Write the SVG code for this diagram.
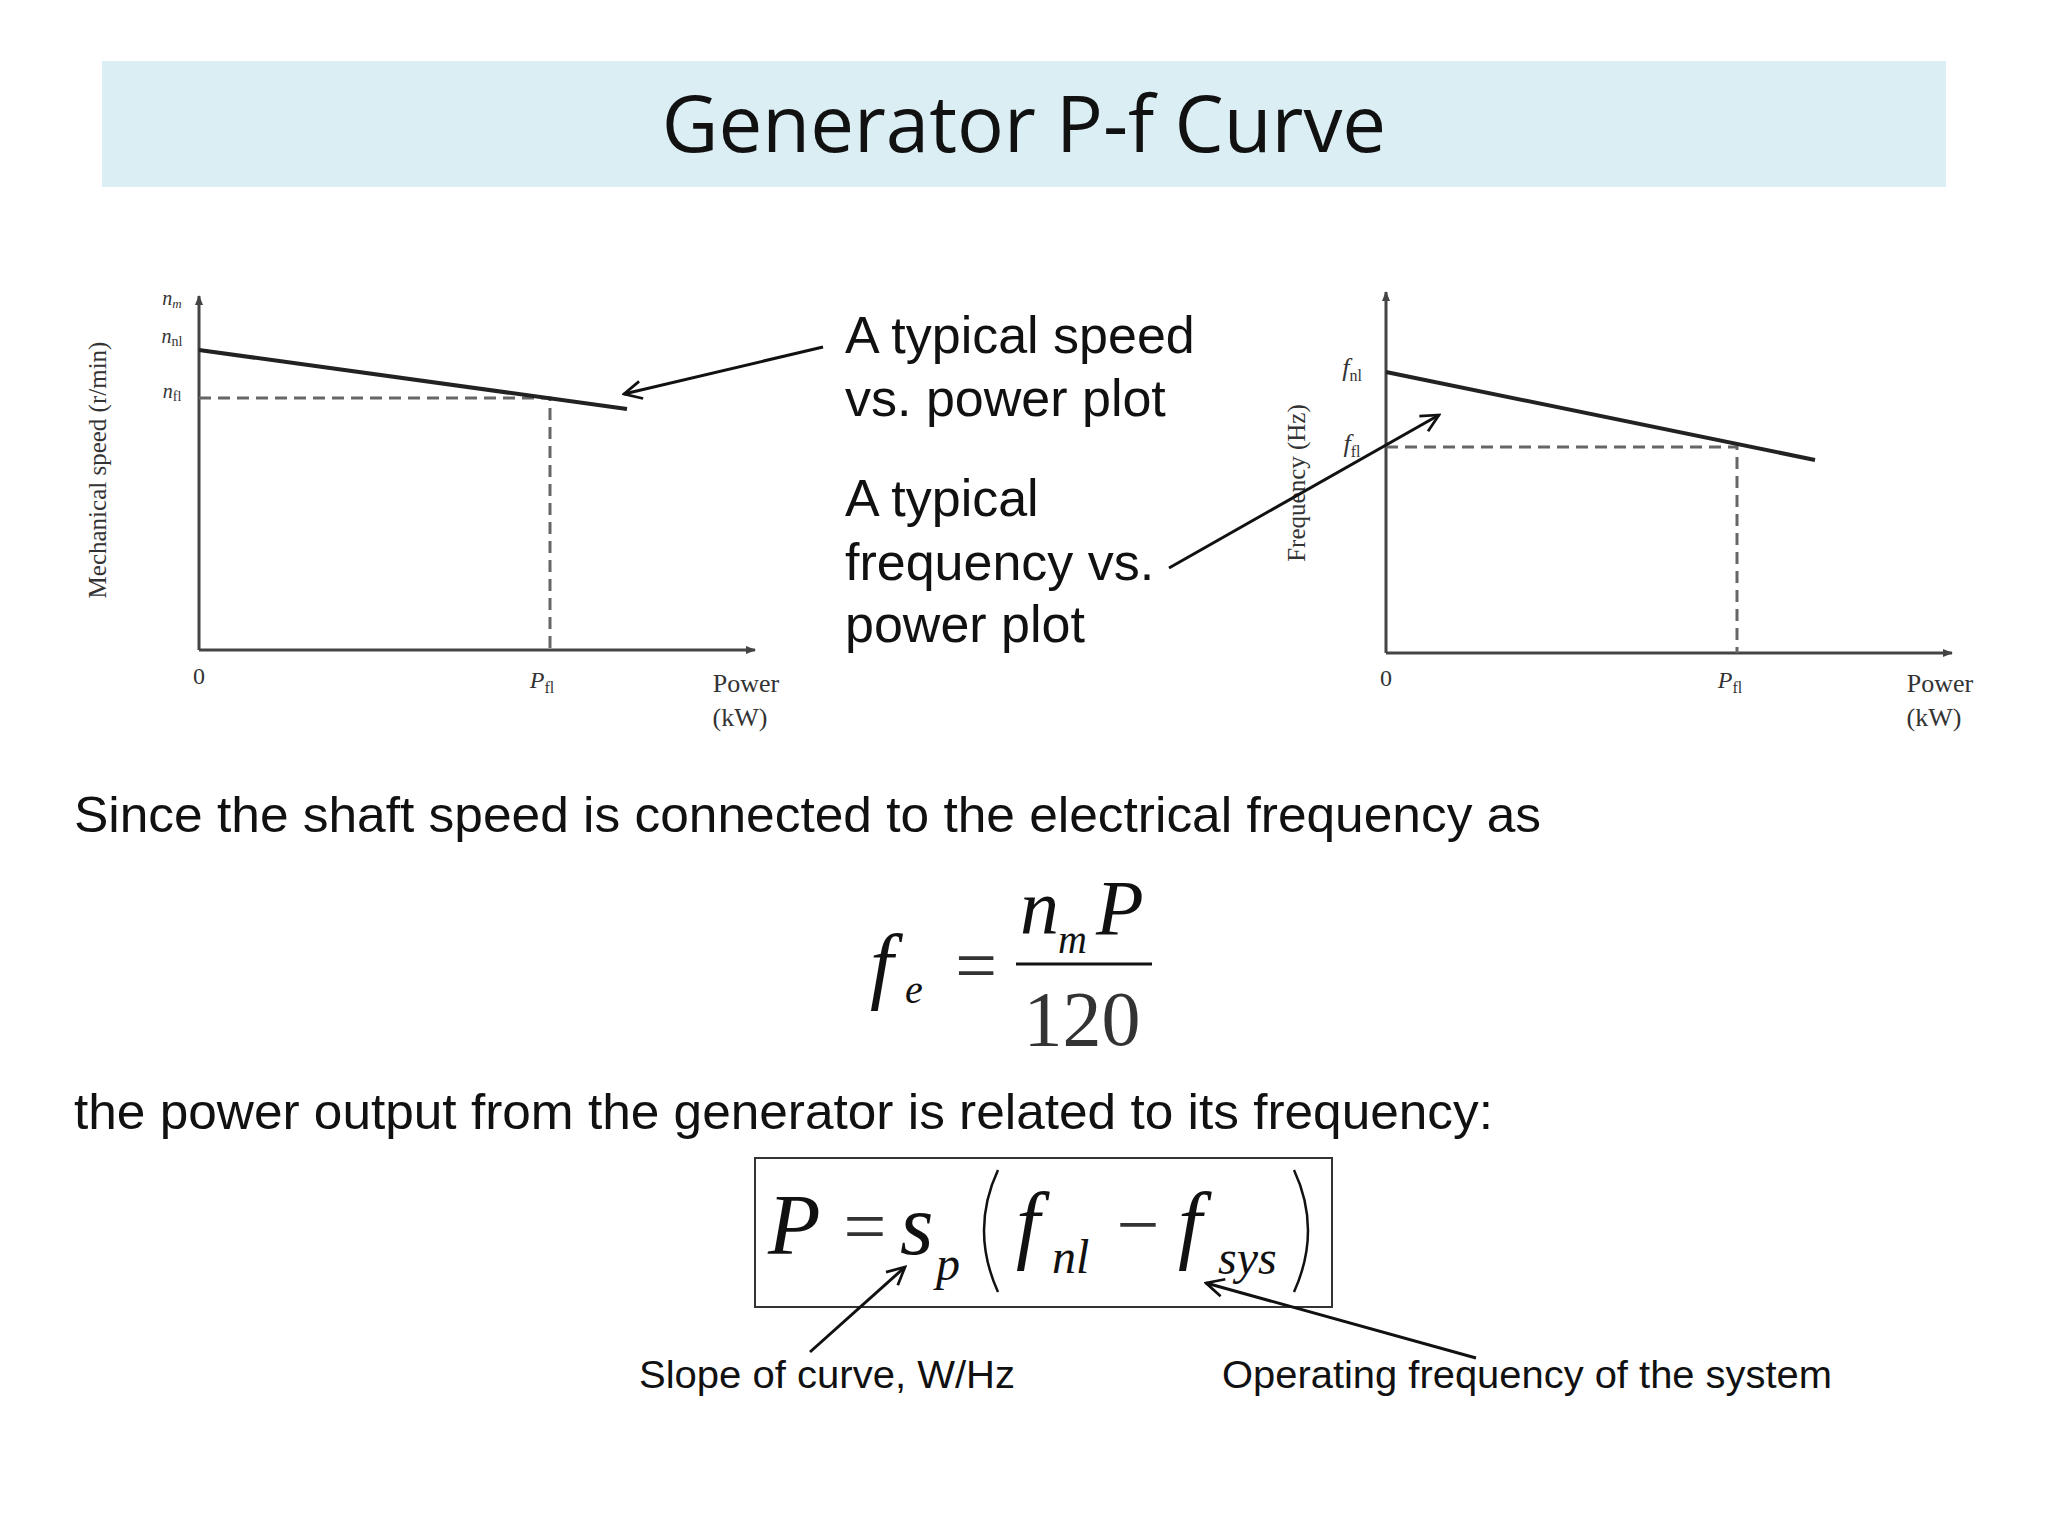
<svg xmlns="http://www.w3.org/2000/svg" width="2048" height="1536" viewBox="0 0 2048 1536">
<defs>
<style>
.ax{stroke:#444;stroke-width:3;fill:none}
.cv{stroke:#222;stroke-width:4;fill:none}
.ds{stroke:#666;stroke-width:3;stroke-dasharray:12 7;fill:none}
.ar{stroke:#111;stroke-width:3;fill:none;marker-end:url(#ah)}
.tm{font-family:'Liberation Serif',serif;fill:#333}
.ti{font-family:'Liberation Serif',serif;font-style:italic;fill:#333}
.sn{font-family:'Liberation Sans',Arial,sans-serif;fill:#111}
.eq{font-family:'Liberation Serif',serif;font-style:italic;fill:#111}
.pr{stroke:#111;stroke-width:2.5;fill:none}
</style>
<marker id="ah" viewBox="0 0 20 20" refX="18" refY="10" markerWidth="22" markerHeight="22" markerUnits="userSpaceOnUse" orient="auto"><path d="M2,2 L18,10 L2,18" fill="none" stroke="#111" stroke-width="2.5"/></marker>
<marker id="ax" viewBox="0 0 10 10" refX="9" refY="5" markerWidth="10" markerHeight="10" markerUnits="userSpaceOnUse" orient="auto"><path d="M0,1 L10,5 L0,9z" fill="#444"/></marker>
</defs>
<rect width="2048" height="1536" fill="#fff"/>
<g id="title"><rect x="102" y="61" width="1844" height="126" fill="#DAEEF3"/>
<text x="1024" y="152" text-anchor="middle" font-family="'Open Sans',sans-serif" font-size="78" fill="#111">Generator P-f Curve</text></g>
<g id="plot-speed">
<path class="ax" d="M199,650 V296" marker-end="url(#ax)"/><path class="ax" d="M199,650 H755" marker-end="url(#ax)"/>
<path class="ds" d="M199,398 H550 V650"/>
<path class="cv" d="M199,350 L627,409"/>
<text class="ti" x="172" y="305" font-size="20" text-anchor="middle">n<tspan font-size="13" dy="3">m</tspan></text>
<text class="ti" x="172" y="343" font-size="20" text-anchor="middle">n<tspan font-style="normal" font-size="14" dy="3">nl</tspan></text>
<text class="ti" x="172" y="398" font-size="20" text-anchor="middle">n<tspan font-style="normal" font-size="14" dy="3">fl</tspan></text>
<text class="tm" x="199" y="684" font-size="24" text-anchor="middle">0</text>
<text class="ti" x="542" y="688" font-size="24" text-anchor="middle">P<tspan font-style="normal" font-size="16" dy="5">fl</tspan></text>
<text class="tm" x="746" y="692" font-size="26" text-anchor="middle">Power</text>
<text class="tm" x="740" y="726" font-size="26" text-anchor="middle">(kW)</text>
<text class="tm" transform="translate(106,470) rotate(-90)" font-size="25" text-anchor="middle">Mechanical speed (r/min)</text>
</g>
<g id="plot-freq">
<path class="ax" d="M1386,653 V292" marker-end="url(#ax)"/><path class="ax" d="M1386,653 H1952" marker-end="url(#ax)"/>
<path class="ds" d="M1386,447 H1737 V653"/>
<path class="cv" d="M1386,372 L1815,460"/>
<text class="ti" x="1352" y="376" font-size="26" text-anchor="middle">f<tspan font-style="normal" font-size="16" dy="5">nl</tspan></text>
<text class="ti" x="1352" y="452" font-size="26" text-anchor="middle">f<tspan font-style="normal" font-size="16" dy="5">fl</tspan></text>
<text class="tm" x="1386" y="686" font-size="24" text-anchor="middle">0</text>
<text class="ti" x="1730" y="688" font-size="24" text-anchor="middle">P<tspan font-style="normal" font-size="16" dy="5">fl</tspan></text>
<text class="tm" x="1940" y="692" font-size="26" text-anchor="middle">Power</text>
<text class="tm" x="1934" y="726" font-size="26" text-anchor="middle">(kW)</text>
<text class="tm" transform="translate(1305,483) rotate(-90)" font-size="25" text-anchor="middle">Frequency (Hz)</text>
</g>
<g id="labels">
<text class="sn" x="845" y="353" font-size="52">A typical speed</text>
<text class="sn" x="845" y="416" font-size="52">vs. power plot</text>
<text class="sn" x="845" y="516" font-size="52">A typical</text>
<text class="sn" x="845" y="580" font-size="52">frequency vs.</text>
<text class="sn" x="845" y="642" font-size="52">power plot</text>
<text class="sn" x="74" y="832" font-size="50" textLength="1467" lengthAdjust="spacingAndGlyphs">Since the shaft speed is connected to the electrical frequency as</text>
<text class="sn" x="74" y="1129" font-size="50" textLength="1419" lengthAdjust="spacingAndGlyphs">the power output from the generator is related to its frequency:</text>
<text class="sn" x="639" y="1388" font-size="38" textLength="376" lengthAdjust="spacingAndGlyphs">Slope of curve, W/Hz</text>
<text class="sn" x="1222" y="1388" font-size="38" textLength="610" lengthAdjust="spacingAndGlyphs">Operating frequency of the system</text>
</g>
<g id="eq1">
<text class="eq" x="870" y="993" font-size="84">f</text>
<text class="eq" x="905" y="1003" font-size="40">e</text>
<text class="tm" x="976" y="990" font-size="74" fill="#111" text-anchor="middle">=</text>
<line x1="1016" y1="964" x2="1152" y2="964" stroke="#111" stroke-width="3"/>
<text class="eq" x="1020" y="934" font-size="78">n</text>
<text class="eq" x="1058" y="953" font-size="40">m</text>
<text class="eq" x="1096" y="934" font-size="78">P</text>
<text class="tm" x="1082" y="1045" font-size="78" fill="#111" text-anchor="middle">120</text>
</g>
<g id="eq2">
<rect x="755" y="1158" width="577" height="149" fill="none" stroke="#333" stroke-width="2"/>
<text class="eq" x="768" y="1254" font-size="86">P</text>
<text class="tm" x="865" y="1252" font-size="76" fill="#111" text-anchor="middle">=</text>
<text class="eq" x="900" y="1254" font-size="86">s</text>
<text class="eq" x="936" y="1280" font-size="48">p</text>
<path class="pr" d="M998,1170 Q970,1230 998,1292"/>
<text class="eq" x="1016" y="1252" font-size="86">f</text>
<text class="eq" x="1052" y="1273" font-size="48">nl</text>
<text class="tm" x="1138" y="1250" font-size="76" fill="#111" text-anchor="middle">−</text>
<text class="eq" x="1178" y="1252" font-size="86">f</text>
<text class="eq" x="1218" y="1274" font-size="48">sys</text>
<path class="pr" d="M1294,1170 Q1322,1230 1294,1292"/>
</g>
<g id="connectors">
<line class="ar" x1="823" y1="347" x2="624" y2="394"/>
<line class="ar" x1="1169" y1="568" x2="1439" y2="415"/>
<line class="ar" x1="810" y1="1352" x2="905" y2="1267"/>
<line class="ar" x1="1476" y1="1358" x2="1206" y2="1283"/>
</g>
</svg>
